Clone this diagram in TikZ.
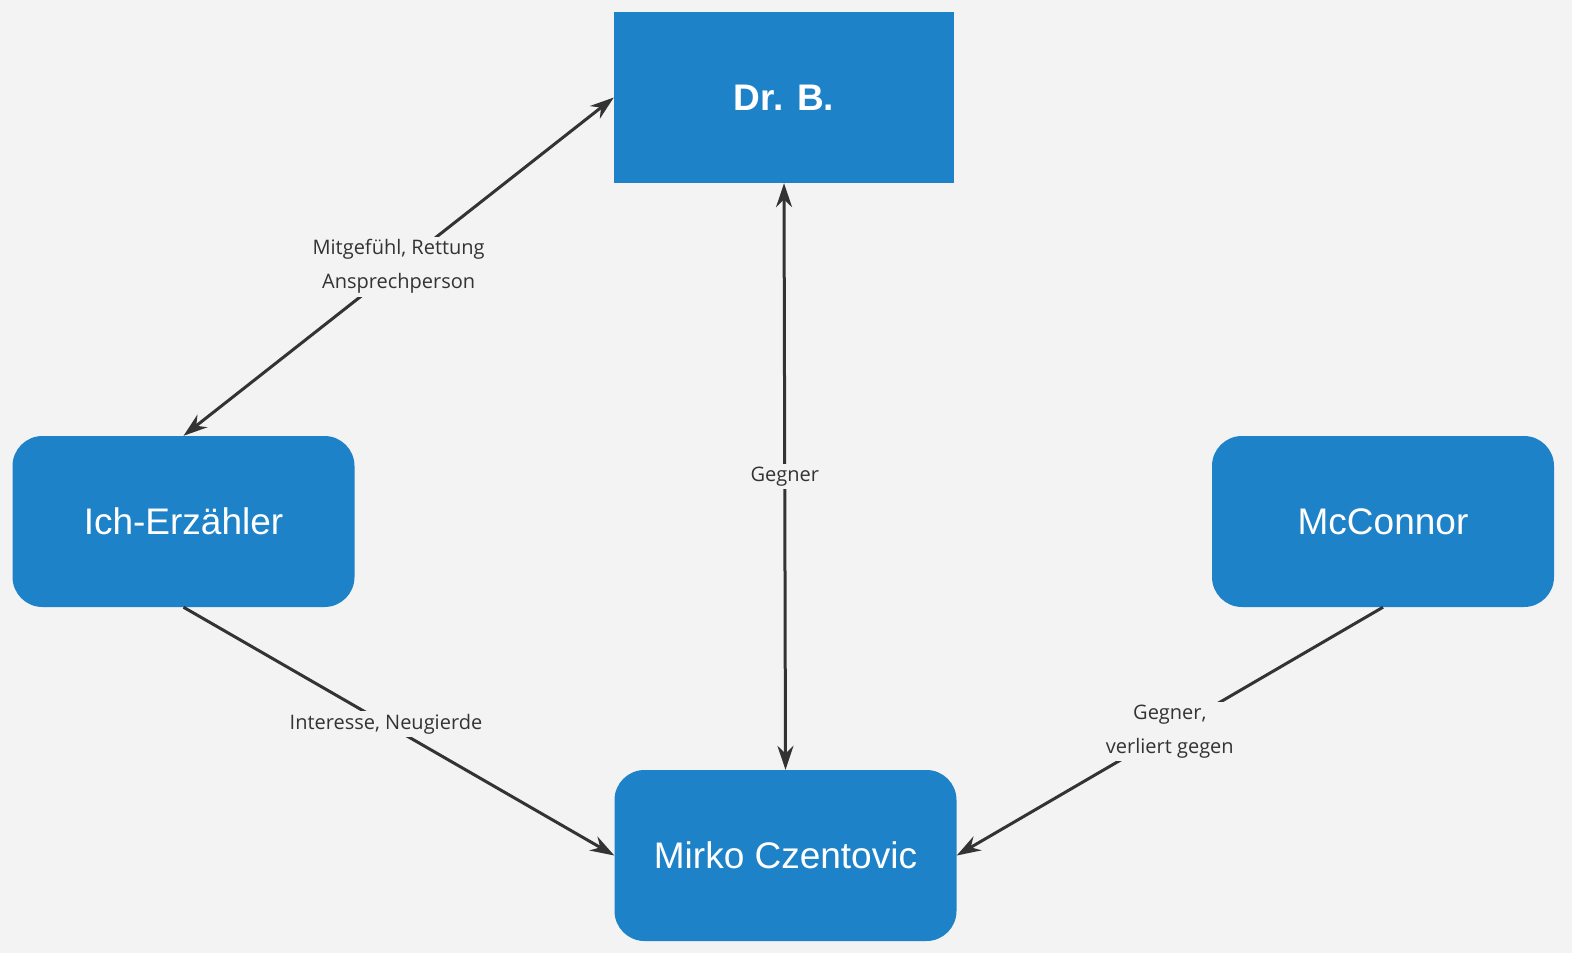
\documentclass[tikz,border=0pt]{standalone}
\usepackage{fontspec}
\setmainfont{Liberation Sans}
\newfontfamily\lab{Open Sans}
\usetikzlibrary{arrows.meta}
\definecolor{bg}{HTML}{F3F3F3}
\definecolor{box}{HTML}{1E82C8}
\definecolor{ln}{HTML}{333333}
\begin{document}
\begin{tikzpicture}[x=1pt,y=-1pt,
  bx/.style={fill=box,draw=none,text=white,minimum width=342pt,minimum height=171pt,inner sep=0pt,font=\fontsize{37}{44}\selectfont},
  rbx/.style={bx,rounded corners=30pt},
  con/.style={draw=ln,line width=3pt,-{Stealth[length=24pt,width=16pt]}},
  bi/.style={con,{Stealth[length=24pt,width=16pt]}-{Stealth[length=24pt,width=16pt]}},
  lb/.style={fill=bg,text=ln,font=\lab\fontsize{20}{34}\selectfont,align=center,inner sep=3pt}]
\fill[bg] (0,0) rectangle (1572,953);
\node[bx,minimum width=340pt,font=\bfseries\fontsize{37}{44}\selectfont] (dr) at (784,97.5) {Dr. B.};
\node[rbx] (ich) at (183.5,521.5) {Ich-Erzähler};
\node[rbx] (mc) at (1383,521.5) {McConnor};
\node[rbx] (mi) at (785.5,855.5) {Mirko Czentovic};
\draw[bi] (ich.north) -- node[lb,pos=0.5]{Mitgefühl, Rettung\\Ansprechperson} (dr.west);
\draw[bi] (dr.south) -- node[lb,pos=0.5]{Gegner} (mi.north);
\draw[con] (ich.south) -- node[lb,pos=0.47]{Interesse, Neugierde} (mi.west);
\draw[con] (mc.south) -- node[lb,pos=0.5]{Gegner,\\verliert gegen} (mi.east);
\end{tikzpicture}
\end{document}
